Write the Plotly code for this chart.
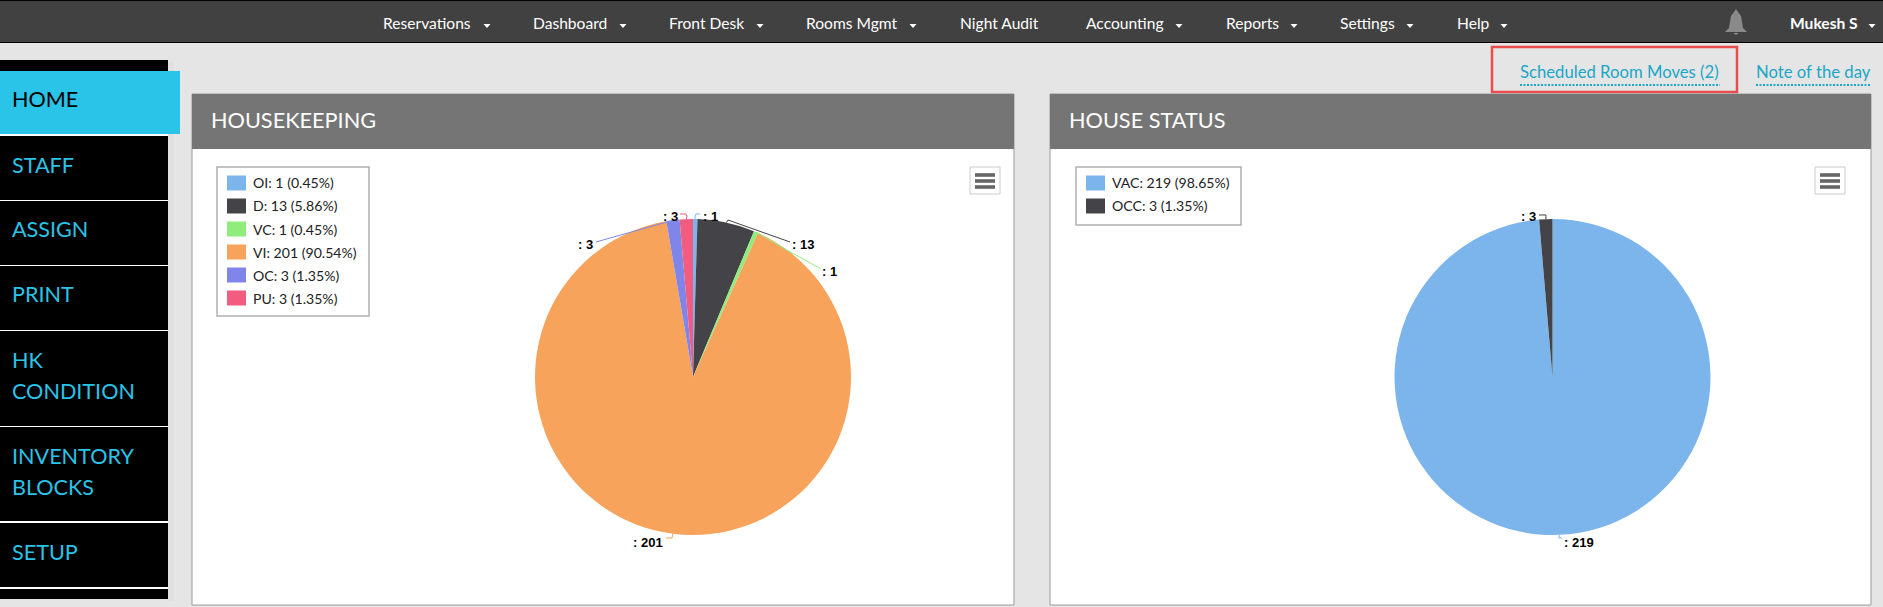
import math
import plotly.graph_objects as go

W, H = 1883, 607

# chart data
hk_labels = ["OI", "D", "VC", "VI", "OC", "PU"]
hk_values = [1, 13, 1, 201, 3, 3]
hk_colors = ["#7cb5ec", "#434348", "#90ed7d", "#f7a35c", "#8085e9", "#f15c80"]

hs_labels = ["VAC", "OCC"]
hs_values = [219, 3]
hs_colors = ["#7cb5ec", "#434348"]

# page text
menu_labels = ["Reservations", "Dashboard", "Front Desk", "Rooms Mgmt", "Night Audit",
               "Accounting", "Reports", "Settings", "Help"]
side_labels = ["HOME", "STAFF", "ASSIGN", "PRINT", "HK", "CONDITION", "INVENTORY", "BLOCKS", "SETUP"]

# page layout, screen pixels
menu_x = [382, 532, 668, 805, 959, 1085, 1225, 1339, 1456]
caret_x = [487, 623, 760, 913, None, 1179, 1294, 1410, 1504, 1872]
side_y = [99, 165, 229, 294, 360, 391, 456, 487, 552]
side_rows = [(136, 200), (201, 265), (266, 330), (331, 426), (427, 521), (523, 587), (589, 599)]

PIE_R = 158
hk_centre = (693, 377)
hs_centre = (1552.5, 377)
# label position, then the elbow of its connector
hk_leaders = [((702, 216), [(700, 214), (696, 214), (695, 216)]),
              ((791, 244), [(790, 242), (728, 220), (727, 222)]),
              ((821, 271), [(821, 269), (785, 249)]),
              ((632, 542), [(666, 538), (672, 538)]),
              ((577, 244), [(596, 242)]),
              ((662, 216), [(680, 214), (686, 214), (687, 216)])]
hs_leaders = [((1563, 542), [(1562, 538), (1559, 538)]),
              ((1520, 216), [(1539, 215), (1546, 215), (1546, 217)])]


def X(x):
    return x / W


def Y(y):
    return 1 - y / H


shapes = []
annotations = []


def rect(x0, y0, x1, y1, fill, line=None, width=0):
    shapes.append(dict(type="rect", xref="paper", yref="paper", layer="below",
                       x0=X(x0), x1=X(x1), y0=Y(y0), y1=Y(y1), fillcolor=fill,
                       line=dict(color=line or fill, width=width)))


def poly(points, fill=None, line=None, width=1, closed=True):
    d = "M" + " L".join(f"{X(px):.5f},{Y(py):.5f}" for px, py in points) + (" Z" if closed else "")
    shapes.append(dict(type="path", xref="paper", yref="paper", path=d,
                       fillcolor=fill or "rgba(0,0,0,0)",
                       line=dict(color=line or "rgba(0,0,0,0)", width=width)))


def text(x, y, s, size, color, family="Lato", anchor="left"):
    annotations.append(dict(x=X(x), y=Y(y), xref="paper", yref="paper", text=s, showarrow=False,
                            xanchor=anchor, yanchor="middle", borderpad=0,
                            font=dict(family=family, size=size, color=color)))


def pie_domain(centre):
    cx, cy = centre
    return dict(x=[X(cx - PIE_R), X(cx + PIE_R)], y=[Y(cy + PIE_R), Y(cy - PIE_R)])


def add_pie_notes(centre, values, colors, leaders):
    total = sum(values)
    done = 0
    for v, c, (label_xy, elbow) in zip(values, colors, leaders):
        mid = (done + v / 2) / total * 2 * math.pi
        done += v
        edge = (centre[0] + PIE_R * math.sin(mid), centre[1] - PIE_R * math.cos(mid))
        poly(elbow + [edge], line=c, width=1, closed=False)
        text(label_xy[0], label_xy[1], f"<b>: {v}</b>", 13, "#000000", family="Liberation Sans")


def add_legend(box, labels, values, colors):
    x0, y0, x1, y1 = box
    rect(x0, y0, x1, y1, "#ffffff", line="#b0b0b0", width=1.5)
    total = sum(values)
    for i, (lab, v, c) in enumerate(zip(labels, values, colors)):
        cy = y0 + 16 + i * 23
        rect(x0 + 10, cy - 7.5, x0 + 29, cy + 7.5, c)
        text(x0 + 35, cy, f"{lab}: {v} ({v / total * 100:.2f}%)", 14.1, "#222222")


def add_burger(x0):
    rect(x0, 167, x0 + 30, 194, "#ffffff", line="#cccccc", width=1)
    for y in (175, 181, 187):
        rect(x0 + 5, y - 1.8, x0 + 25, y + 1.8, "#666666")


# page chrome
rect(0, 0, W, H, "#e5e5e5")
rect(0, 0, W, 42, "#414141")
rect(0, 0, W, 1, "#000000")
rect(0, 42, W, 43, "#000000")
rect(168, 62, 174, 601, "#e0e0e0")

rect(0, 60, 168, 599, "#ffffff")
rect(0, 60, 168, 71, "#000000")
for top, bottom in side_rows:
    rect(0, top, 168, bottom, "#000000")
rect(0, 71, 180, 134, "#29c4e8")

for i, lab in enumerate(side_labels):
    text(11, side_y[i], lab, 21.6, "#000000" if lab == "HOME" else "#29c4e8")

for lab, x in zip(menu_labels, menu_x):
    text(x, 23, lab, 15.6, "#ffffff")
text(1789, 23, "<b>Mukesh S</b>", 15.6, "#ffffff")
for x in caret_x:
    if x is not None:
        poly([(x - 3.5, 24), (x + 3.5, 24), (x, 28)], fill="#ffffff")

# bell
poly([(1736, 9), (1738, 12), (1741, 16), (1743, 28), (1747, 32), (1725, 32), (1729, 28), (1731, 16), (1734, 12)],
     fill="#8a8a8a")
poly([(1733, 33), (1739, 33), (1736, 35)], fill="#8a8a8a")

# top links
rect(1492, 47, 1737, 92, "rgba(0,0,0,0)", line="#ea4c4c", width=2.5)
text(1519, 72, "Scheduled Room Moves (2)", 16.7, "#1aa7c8")
text(1755, 72, "Note of the day", 16.7, "#1aa7c8")
for x0, x1 in ((1520, 1720), (1756, 1871)):
    shapes.append(dict(type="line", xref="paper", yref="paper", x0=X(x0), x1=X(x1), y0=Y(85), y1=Y(85),
                       line=dict(color="#1aa7c8", width=2, dash="2px,1.5px")))

# panels
for x0, x1, title in ((192, 1014, "HOUSEKEEPING"), (1050, 1871, "HOUSE STATUS")):
    rect(x0, 94, x1, 605, "#ffffff", line="#999999", width=1)
    rect(x0, 94, x1, 149, "#757575")
    text(x0 + 18, 120, title, 21.7, "#ffffff")

add_legend((217, 167, 369, 316), hk_labels, hk_values, hk_colors)
add_legend((1076, 167, 1241, 225), hs_labels, hs_values, hs_colors)
add_burger(970)
add_burger(1815)

add_pie_notes(hk_centre, hk_values, hk_colors, hk_leaders)
add_pie_notes(hs_centre, hs_values, hs_colors, hs_leaders)

fig = go.Figure()
fig.add_trace(go.Pie(labels=hk_labels, values=hk_values, sort=False, direction="clockwise", rotation=0,
                     marker=dict(colors=hk_colors, line=dict(width=0)), textinfo="none",
                     hoverinfo="label+value+percent", domain=pie_domain(hk_centre), showlegend=False))
fig.add_trace(go.Pie(labels=hs_labels, values=hs_values, sort=False, direction="clockwise", rotation=0,
                     marker=dict(colors=hs_colors, line=dict(width=0)), textinfo="none",
                     hoverinfo="label+value+percent", domain=pie_domain(hs_centre), showlegend=False))

fig.update_layout(width=W, height=H, margin=dict(l=0, r=0, t=0, b=0), paper_bgcolor="#e5e5e5",
                  shapes=shapes, annotations=annotations, font=dict(family="Lato"))

fig.write_html("out.html", config=dict(displayModeBar=False),
               post_script="document.body.style.margin='0';document.body.style.overflow='hidden';")
